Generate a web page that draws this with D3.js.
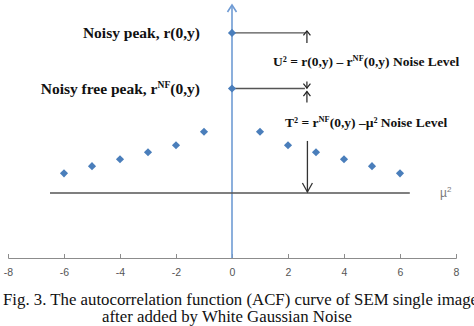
<!DOCTYPE html>
<html>
<head>
<meta charset="utf-8">
<script src="https://cdn.jsdelivr.net/npm/d3@7"></script>
<style>
  html, body { margin: 0; padding: 0; background: #fff; }
  svg { display: block; }
</style>
</head>
<body>
<svg id="chart" width="474" height="326"></svg>
<script>
// ---- data ----
const lags = [-6, -5, -4, -3, -2, -1, 1, 2, 3, 4, 5, 6];
const acfValues = [0.376, 0.408, 0.439, 0.470, 0.501, 0.561, 0.561, 0.501, 0.470, 0.439, 0.408, 0.376];
const peakLags = [0, 0];
const peakValues = [1.0, 0.753];           // noisy peak r(0,y), noise-free peak rNF(0,y)
const noiseLevel = 0.289;                  // mu^2
const noiseExtent = [-6.5, 6.35];
const xTicks = [-8, -6, -4, -2, 0, 2, 4, 6, 8];
const annotLag = 2.64;                     // x position of the U/T arrows

const svg = d3.select("#chart");
const x = d3.scaleLinear().domain([-8, 8]).range([8, 456]);
const y = d3.scaleLinear().domain([0, 1.124]).range([258, 5]);

const blue = "#4a7ebb";
const serif = "'Liberation Serif', 'Times New Roman', serif";
const sans = "'Liberation Sans', Arial, sans-serif";

// x axis (ticks inside, pointing up)
const xAxis = d3.axisBottom(x).tickValues(xTicks).tickSizeInner(-4).tickSizeOuter(-4)
  .tickFormat(d => String(d));
const gx = svg.append("g").attr("transform", `translate(0,${y(0)})`).call(xAxis);
gx.select(".domain").attr("stroke", "#8c8c8c");
gx.selectAll(".tick line").attr("stroke", "#8c8c8c");
gx.selectAll(".tick text").attr("y", 11).attr("dy", "0.71em")
  .attr("fill", "#555").style("font-family", sans).style("font-size", "10.5px");

// vertical axis with arrow
const vx = x(0);
svg.append("line").attr("x1", vx).attr("x2", vx).attr("y1", y(0)).attr("y2", y(1.124))
  .attr("stroke", "#6f9bd4").attr("stroke-width", 1.6);
svg.append("path")
  .attr("d", `M${vx - 4.5},${y(1.124) + 7} L${vx},${y(1.124)} L${vx + 4.5},${y(1.124) + 7}`)
  .attr("fill", "none").attr("stroke", "#6f9bd4").attr("stroke-width", 1.6);

// noise level line mu^2
svg.append("line")
  .attr("x1", x(noiseExtent[0])).attr("x2", x(noiseExtent[1]))
  .attr("y1", y(noiseLevel)).attr("y2", y(noiseLevel))
  .attr("stroke", "#555").attr("stroke-width", 1.4);
const mu = svg.append("text").attr("x", 440).attr("y", y(noiseLevel) + 4)
  .attr("fill", "#7a7a7a").style("font-family", sans).style("font-size", "12px");
mu.append("tspan").text("µ");
mu.append("tspan").attr("dy", -5).style("font-size", "8px").text("2");

// horizontal lines from peaks
peakValues.forEach(v => {
  svg.append("line").attr("x1", vx).attr("x2", x(annotLag) - 1)
    .attr("y1", y(v)).attr("y2", y(v)).attr("stroke", "#555").attr("stroke-width", 1.3);
});

// small arrows
const ax = x(annotLag) + 1;
function arrowUp(yTop, yBot) {
  svg.append("line").attr("x1", ax).attr("x2", ax).attr("y1", yTop).attr("y2", yBot)
    .attr("stroke", "#222").attr("stroke-width", 1.2);
  svg.append("path").attr("d", `M${ax - 3.5},${yTop + 4.5} L${ax},${yTop} L${ax + 3.5},${yTop + 4.5}`)
    .attr("fill", "none").attr("stroke", "#222").attr("stroke-width", 1.2);
}
arrowUp(y(peakValues[0]) - 2, y(peakValues[0]) + 10);
// down head onto noise-free peak
const yNF = y(peakValues[1]);
svg.append("line").attr("x1", ax).attr("x2", ax).attr("y1", yNF - 7).attr("y2", yNF)
  .attr("stroke", "#222").attr("stroke-width", 1.2);
svg.append("path").attr("d", `M${ax - 3.5},${yNF - 5} L${ax},${yNF - 0.5} L${ax + 3.5},${yNF - 5}`)
  .attr("fill", "none").attr("stroke", "#222").attr("stroke-width", 1.2);
arrowUp(yNF + 3, yNF + 14);

// long T^2 arrow down to noise line
const tx = x(annotLag) + 1.5;
const tTop = y(0.52), tBot = y(noiseLevel) - 1;
svg.append("line").attr("x1", tx).attr("x2", tx).attr("y1", tTop).attr("y2", tBot)
  .attr("stroke", "#333").attr("stroke-width", 1.3);
svg.append("path").attr("d", `M${tx - 5},${tBot - 9} L${tx},${tBot} L${tx + 5},${tBot - 9}`)
  .attr("fill", "none").attr("stroke", "#333").attr("stroke-width", 1.3);

// diamonds
const diamond = d3.symbol().type(d3.symbolDiamond2).size(42);
svg.append("g").selectAll("path").data(lags.map((l, i) => [l, acfValues[i]]))
  .join("path").attr("d", diamond)
  .attr("transform", d => `translate(${x(d[0])},${y(d[1])})`).attr("fill", blue);
svg.append("g").selectAll("path").data(peakLags.map((l, i) => [l, peakValues[i]]))
  .join("path").attr("d", diamond)
  .attr("transform", d => `translate(${x(d[0])},${y(d[1])})`).attr("fill", blue);

// labels (bold serif)
function rich(xp, yp, parts, size, anchor) {
  const t = svg.append("text").attr("x", xp).attr("y", yp).attr("text-anchor", anchor)
    .style("font-family", serif).style("font-weight", "bold").style("font-size", size + "px")
    .attr("fill", "#111");
  let shift = 0;
  parts.forEach(p => {
    if (p.sup) {
      t.append("tspan").attr("dy", -size * 0.38).style("font-size", (size * 0.62) + "px").text(p.sup);
      shift = size * 0.38;
    } else {
      const s = t.append("tspan").text(p.t);
      if (shift) { s.attr("dy", shift); shift = 0; }
    }
  });
  return t;
}
rich(200, y(peakValues[0]) + 5, [{t: "Noisy peak, r(0,y)"}], 15.5, "end");
rich(200, yNF + 5, [{t: "Noisy free peak, r"}, {sup: "NF"}, {t: "(0,y)"}], 15.5, "end");
rich(273, 66, [{t: "U² = r(0,y) – r"}, {sup: "NF"}, {t: "(0,y) Noise Level"}], 13.5, "start");
rich(285, 127, [{t: "T² = r"}, {sup: "NF"}, {t: "(0,y) –µ² Noise Level"}], 13.5, "start");

// caption
svg.append("text").attr("x", 3).attr("y", 305)
  .style("font-family", serif).style("font-size", "16.8px").attr("fill", "#111")
  .text("Fig. 3. The autocorrelation function (ACF) curve of SEM single image");
svg.append("text").attr("x", 227).attr("y", 322).attr("text-anchor", "middle")
  .style("font-family", serif).style("font-size", "16.8px").attr("fill", "#111")
  .text("after added by White Gaussian Noise");
</script>
</body>
</html>
